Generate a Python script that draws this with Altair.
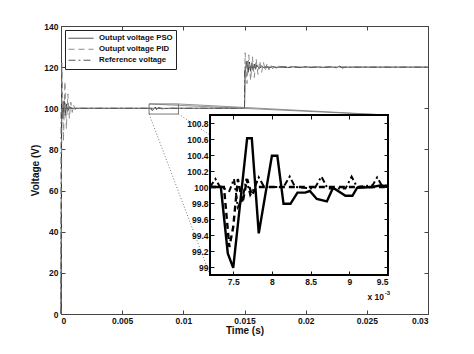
import altair as alt
import pandas as pd

# ---------------- main plot data (time in s, voltage in V) ----------------
series_names = ["Outupt voltage PSO", "Outupt voltage PID", "Reference voltage"]

pso_t = [0, 0.00005, 0.00015, 0.00025, 0.00035, 0.00045, 0.00055, 0.0007, 0.0009,
         0.0073, 0.0074, 0.0075, 0.0077, 0.0078, 0.0080, 0.0082, 0.0086, 0.0091,
         0.015, 0.01505, 0.0152, 0.0153, 0.0154, 0.0155, 0.0156, 0.0157, 0.0158, 0.0159,
         0.0160, 0.0162, 0.0164, 0.0166, 0.0168, 0.0170, 0.0173, 0.0176, 0.0180, 0.0185,
         0.0190, 0.0195, 0.0200, 0.0205, 0.0210, 0.0215, 0.0220, 0.0225, 0.0228, 0.0230,
         0.0233, 0.0300]
pso_v = [0, 104, 95, 103.5, 96.5, 102, 98.5, 100.8, 100,
         100, 99.2, 99.0, 100.6, 99.4, 100.4, 99.8, 99.9, 100,
         100, 117, 123, 117.5, 122.5, 118, 122, 118.5, 121.5, 119,
         121, 119.3, 120.7, 119.5, 120.5, 119.7, 120.3, 119.8, 120.2, 119.8,
         120.2, 119.8, 120.2, 119.8, 120.1, 119.8, 120.2, 119.7, 120.5, 119.6,
         120, 120]

pid_t = [0, 0.00008, 0.0002, 0.00032, 0.00044, 0.00056, 0.00068, 0.0008, 0.00092,
         0.00104, 0.00116, 0.0013, 0.0015, 0.015, 0.01505, 0.0152, 0.01535, 0.0155,
         0.01565, 0.0158, 0.01595, 0.0161, 0.01625, 0.0164, 0.01655, 0.0167, 0.01685,
         0.0170, 0.01715, 0.0173, 0.01745, 0.0176, 0.0178, 0.0180, 0.0183, 0.0186,
         0.0190, 0.0195, 0.0200, 0.0205, 0.0300]
pid_v = [0, 122, 84, 113, 90, 107, 95, 103, 98,
         101.5, 99.3, 100.5, 100, 100, 127, 112, 126, 113.5,
         125, 115, 124, 116.5, 123, 117.5, 122.3, 118.2, 121.8,
         118.7, 121.3, 119.1, 120.9, 119.4, 120.6, 119.6, 120.4, 119.7,
         120.3, 119.8, 120.1, 120, 120]

ref_t = [0, 0.00001, 0.015, 0.01501, 0.03]
ref_v = [0, 100, 100, 120, 120]

# zoom box drawn on the main plot and the connector lines
box_t = [0.0072, 0.0096]
box_v = [97.2, 102.1]
conn_t1 = [0.0072, 0.0096]
conn_v1 = [102.1, 102.1]
conn_t2 = [0.02673, 0.02673]
conn_v2 = [96.7, 96.7]
dot_t1 = [0.0072, 0.0096]
dot_v1 = [97.2, 97.2]
dot_t2 = [0.01218, 0.01218]
dot_v2 = [19.0, 87.0]

# ---------------- inset data (time in ms, voltage in V) ----------------
ins_pso_t = [7.2, 7.34, 7.43, 7.50, 7.68, 7.74, 7.83, 8.00, 8.07, 8.15, 8.24, 8.33,
             8.43, 8.49, 8.58, 8.71, 8.79, 8.95, 9.04, 9.10, 9.30, 9.40, 9.5]
ins_pso_v = [100, 100, 99.17, 98.99, 100.61, 100.61, 99.42, 100.39, 100.39, 99.79, 99.79, 99.93,
             99.93, 99.95, 99.85, 99.82, 99.99, 99.89, 99.89, 99.99, 100.0, 100.02, 100.01]

ins_pid_t = [7.2, 7.38, 7.45, 7.50, 7.56, 7.62, 7.68, 7.74, 7.80, 9.5]
ins_pid_v = [100, 100, 99.25, 99.5, 100.1, 99.8, 100.1, 99.9, 100, 100]

ins_ref_t = [7.2, 7.27, 7.33, 7.45, 7.51, 7.56, 7.62, 7.67, 7.72, 7.78, 7.83, 7.90,
             8.15, 8.23, 8.30, 8.55, 8.64, 8.72, 8.95, 9.03, 9.10, 9.30, 9.36, 9.42, 9.5]
ins_ref_v = [100.0, 100.1, 100.0, 99.95, 100.1, 99.75, 99.85, 100.1, 99.9, 100.0, 100.12, 100.0,
             100.0, 100.13, 100.0, 99.98, 100.13, 99.98, 99.98, 100.13, 100.0, 100.02, 100.12, 100.02, 100.02]

main_x_domain = [0, 0.03]
main_y_domain = [0, 140]
main_x_ticks = [0, 0.005, 0.01, 0.015, 0.02, 0.025, 0.03]
main_y_ticks = [0, 20, 40, 60, 80, 100, 120, 140]

ins_x_domain = [7.2, 9.5]
ins_y_domain = [98.9, 100.9]
ins_x_ticks = [7.5, 8, 8.5, 9, 9.5]
ins_y_ticks = [99, 99.2, 99.4, 99.6, 99.8, 100, 100.2, 100.4, 100.6, 100.8]

# ---------------- geometry ----------------
W, H = 367, 288
INS_X_RANGE = [149, 327]
INS_Y_RANGE = [249, 89]
FONT = "Liberation Sans"

# ---------------- build tables ----------------
rows = []
for name, ts, vs in zip(series_names, [pso_t, pid_t, ref_t], [pso_v, pid_v, ref_v]):
    for i, (t, v) in enumerate(zip(ts, vs)):
        rows.append({"t": t, "v": v, "series": name, "i": i})
main_df = pd.DataFrame(rows)

box_df = pd.DataFrame({"t": [box_t[0]], "t2": [box_t[1]], "v": [box_v[0]], "v2": [box_v[1]]})
conn_df = pd.DataFrame({"t": conn_t1, "v": conn_v1, "t2": conn_t2, "v2": conn_v2})
dot_df = pd.DataFrame({"t": dot_t1, "v": dot_v1, "t2": dot_t2, "v2": dot_v2})

main_xscale = alt.Scale(domain=main_x_domain, nice=False, zero=False)
main_yscale = alt.Scale(domain=main_y_domain, nice=False, zero=False)

axis_common = dict(domain=False, grid=False, tickSize=4, offset=-4, tickColor="#444",
                   labelFont=FONT, labelFontSize=8.5, labelFontWeight="bold", labelColor="#111",
                   titleFont=FONT, titleFontSize=10, titleFontWeight="bold", titleColor="#111")

main_xaxis = alt.Axis(values=main_x_ticks, format="~g", orient="bottom", title="Time (s)",
                      labelPadding=2, titlePadding=1, **axis_common)
main_yaxis = alt.Axis(values=main_y_ticks, format="d", orient="left", title="Voltage (V)",
                      labelPadding=3, titlePadding=3, **axis_common)

MX = alt.X("t:Q", scale=main_xscale, axis=main_xaxis)
MY = alt.Y("v:Q", scale=main_yscale, axis=main_yaxis)

lines = alt.Chart(main_df).mark_line(strokeWidth=1).encode(
    x=MX, y=MY,
    color=alt.Color("series:N", scale=alt.Scale(domain=series_names, range=["#333333", "#8c8c8c", "#555555"]),
                    legend=alt.Legend(title=None)),
    strokeDash=alt.StrokeDash("series:N", scale=alt.Scale(domain=series_names, range=[[1, 0], [6, 4], [7, 3, 2, 3]]),
                              legend=alt.Legend(title=None)),
    order=alt.Order("i:Q"),
)

box = alt.Chart(box_df).mark_rect(fillOpacity=0, stroke="#555", strokeWidth=0.8).encode(
    x=MX, x2="t2:Q", y=MY, y2="v2:Q")
conn = alt.Chart(conn_df).mark_rule(color="#777", strokeWidth=0.8).encode(
    x=MX, x2="t2:Q", y=MY, y2="v2:Q")
dots = alt.Chart(dot_df).mark_rule(color="#555", strokeWidth=0.8, strokeDash=[1, 2]).encode(
    x=MX, x2="t2:Q", y=MY, y2="v2:Q")

main_group = alt.layer(lines, box, conn, dots)

mirror_common = dict(domain=False, grid=False, labels=False, tickSize=4, title=None, tickColor="#444")
main_mirror = alt.Chart(box_df).mark_point(opacity=0).encode(
    x=alt.X("t:Q", scale=alt.Scale(domain=main_x_domain, nice=False, zero=False),
            axis=alt.Axis(values=main_x_ticks, orient="top", offset=-4, **mirror_common)),
    y=alt.Y("v:Q", scale=alt.Scale(domain=main_y_domain, nice=False, zero=False),
            axis=alt.Axis(values=main_y_ticks, orient="right", offset=-4, **mirror_common)),
)

# ---------------- inset ----------------
ins_xscale = alt.Scale(domain=ins_x_domain, range=INS_X_RANGE, nice=False, zero=False)
ins_yscale = alt.Scale(domain=ins_y_domain, range=INS_Y_RANGE, nice=False, zero=False)
ins_axis_common = dict(domain=False, grid=False, tickSize=4, tickColor="#111", zindex=1, title=None,
                       labelFont=FONT, labelFontSize=8.5, labelFontWeight="bold", labelColor="#111")
IX = alt.X("t:Q", scale=ins_xscale,
           axis=alt.Axis(values=ins_x_ticks, format="~g", orient="bottom", offset=-43, labelPadding=2,
                         **ins_axis_common))
IY = alt.Y("v:Q", scale=ins_yscale,
           axis=alt.Axis(values=ins_y_ticks, format="~g", orient="left", offset=-153, labelPadding=2,
                         **ins_axis_common))

frame_df = pd.DataFrame({"t": [ins_x_domain[0]], "t2": [ins_x_domain[1]],
                         "v": [ins_y_domain[0]], "v2": [ins_y_domain[1]]})
frame = alt.Chart(frame_df).mark_rect(fill="white", stroke="black", strokeWidth=2).encode(
    x=IX, x2="t2:Q", y=IY, y2="v2:Q")

ins_pso = alt.Chart(pd.DataFrame({"t": ins_pso_t, "v": ins_pso_v})).mark_line(
    color="black", strokeWidth=2.4, strokeJoin="miter").encode(x=IX, y=IY)
ins_pid = alt.Chart(pd.DataFrame({"t": ins_pid_t, "v": ins_pid_v})).mark_line(
    color="black", strokeWidth=2.4, strokeDash=[6, 4]).encode(x=IX, y=IY)
ins_ref = alt.Chart(pd.DataFrame({"t": ins_ref_t, "v": ins_ref_v})).mark_line(
    color="black", strokeWidth=2.0, strokeDash=[6, 3, 2, 3]).encode(x=IX, y=IY)

exp_df = pd.DataFrame({"t": [ins_x_domain[1]], "v": [ins_y_domain[0]]})
exp_base = alt.Chart(exp_df).mark_text(text="x 10", align="right", baseline="alphabetic", dx=-4, dy=25,
                                       font=FONT, fontSize=8.5, fontWeight="bold", color="#111").encode(x=IX, y=IY)
exp_sup = alt.Chart(exp_df).mark_text(text="-3", align="right", baseline="alphabetic", dx=2, dy=20,
                                      font=FONT, fontSize=6, fontWeight="bold", color="#111").encode(x=IX, y=IY)

inset_group = alt.layer(frame, ins_ref, ins_pid, ins_pso, exp_base, exp_sup)

ins_mirror_common = dict(domain=False, grid=False, labels=False, tickSize=4, title=None,
                         tickColor="#111", zindex=1)
inset_mirror = alt.Chart(frame_df).mark_point(opacity=0).encode(
    x=alt.X("t:Q", scale=alt.Scale(domain=ins_x_domain, range=INS_X_RANGE, nice=False, zero=False),
            axis=alt.Axis(values=ins_x_ticks, orient="top", offset=-93, **ins_mirror_common)),
    y=alt.Y("v:Q", scale=alt.Scale(domain=ins_y_domain, range=INS_Y_RANGE, nice=False, zero=False),
            axis=alt.Axis(values=ins_y_ticks, orient="right", offset=-44, **ins_mirror_common)),
)

chart = alt.layer(main_group, main_mirror, inset_group, inset_mirror).resolve_scale(
    x="independent", y="independent"
).properties(
    width=W, height=H,
    autosize=alt.AutoSizeParams(type="none"),
    padding={"left": 61, "top": 26, "right": 474 - 61 - W, "bottom": 354 - 26 - H},
    background="white",
).configure_view(
    stroke="#444", strokeWidth=1
).configure_legend(
    orient="top-left", offset=4, strokeColor="#222", fillColor="white", padding=3,
    symbolType="stroke", symbolSize=625, symbolStrokeWidth=1, rowPadding=0, clipHeight=10.5,
    labelFont=FONT, labelFontSize=7.8, labelFontWeight="bold", labelColor="#111", labelOffset=5,
    cornerRadius=0,
)

chart.save("out.html", embed_options={"renderer": "svg", "actions": False})
